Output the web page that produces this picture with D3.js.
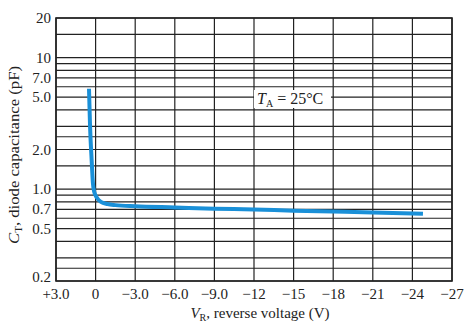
<!DOCTYPE html>
<head>
<meta charset="utf-8">
<script src="https://cdn.jsdelivr.net/npm/d3@7"></script>
<style>
  body { margin: 0; background: #fff; }
  text { font-family: "Liberation Serif", "Times New Roman", serif; fill: #222; }
</style>
</head>
<body>
<div id="container"></div>
<script>
// Données (tension inverse V, capacité pF)
const voltage = [0.5, 0.42, 0.3, 0.2, 0.1, -0.1, -0.4, -0.9, -1.5, -3, -6, -9, -12, -15, -18, -21, -24.8];
const capacitance = [5.8, 3.0, 1.67, 1.1, 0.95, 0.86, 0.8, 0.77, 0.755, 0.74, 0.725, 0.71, 0.70, 0.685, 0.675, 0.665, 0.65];

const xTicks = [3, 0, -3, -6, -9, -12, -15, -18, -21, -24, -27];
const xTickLabels = ["+3.0", "0", "\u22123.0", "\u22126.0", "\u22129.0", "\u221212", "\u221215", "\u221218", "\u221221", "\u221224", "\u221227"];
const yTicks = [20, 10, 7, 5, 2, 1, 0.7, 0.5, 0.2];
const yTickLabels = ["20", "10", "7.0", "5.0", "2.0", "1.0", "0.7", "0.5", "0.2"];
const yGrid = [20, 15, 10, 9, 8, 7, 6, 5, 4, 3, 2.5, 2, 1.5, 1, 0.9, 0.8, 0.7, 0.6, 0.5, 0.4, 0.3, 0.25, 0.2];

const W = 474, H = 334;
const mLeft = 56, mRight = 452, mTop = 18, mBottom = 281;

const svg = d3.select("#container").append("svg")
  .attr("width", W).attr("height", H);

// Échelles
const x = d3.scaleLinear().domain([3, -27]).range([mLeft, mRight]);
const y = d3.scaleLog().domain([0.2, 20]).range([mBottom, mTop]);

// Grille
svg.append("g").selectAll("line").data(yGrid).join("line")
  .attr("x1", mLeft).attr("x2", mRight)
  .attr("y1", d => y(d)).attr("y2", d => y(d))
  .attr("stroke", "#222").attr("stroke-width", 1.2);

svg.append("g").selectAll("line").data(xTicks).join("line")
  .attr("x1", d => x(d)).attr("x2", d => x(d))
  .attr("y1", mTop).attr("y2", mBottom)
  .attr("stroke", "#222").attr("stroke-width", 1.2);

// Cadre
svg.append("rect")
  .attr("x", mLeft).attr("y", mTop)
  .attr("width", mRight - mLeft).attr("height", mBottom - mTop)
  .attr("fill", "none").attr("stroke", "#222").attr("stroke-width", 1.6);

// Courbe
const pts = voltage.map((v, i) => ({ v, c: capacitance[i] }));
svg.append("path")
  .datum(pts)
  .attr("fill", "none")
  .attr("stroke", "#1a90d8")
  .attr("stroke-width", 4)
  .attr("d", d3.line().x(d => x(d.v)).y(d => y(d.c)).curve(d3.curveMonotoneX));

// Étiquette T_A
const ann = svg.append("g");
ann.append("rect")
  .attr("x", 254).attr("y", 90)
  .attr("width", 77).attr("height", 18)
  .attr("fill", "#fff");
const annText = ann.append("text")
  .attr("x", 257).attr("y", 103.5)
  .attr("font-size", 16);
annText.append("tspan").attr("font-style", "italic").text("T");
annText.append("tspan").attr("font-size", 10).attr("dy", 3).text("A");
annText.append("tspan").attr("dy", -3).text(" = 25\u00B0C");

// Labels des ticks
svg.append("g").selectAll("text").data(xTicks).join("text")
  .attr("x", d => x(d)).attr("y", 299)
  .attr("text-anchor", "middle")
  .attr("font-size", 15)
  .text((d, i) => xTickLabels[i]);

svg.append("g").selectAll("text").data(yTicks).join("text")
  .attr("x", 51).attr("y", d => d === 0.2 ? y(d) + 1 : y(d) + 5)
  .attr("text-anchor", "end")
  .attr("font-size", 15)
  .text((d, i) => yTickLabels[i]);

// Titre axe X
const xt = svg.append("text")
  .attr("x", 260).attr("y", 318)
  .attr("text-anchor", "middle")
  .attr("font-size", 15);
xt.append("tspan").attr("font-style", "italic").text("V");
xt.append("tspan").attr("font-size", 10).attr("dy", 3).text("R");
xt.append("tspan").attr("dy", -3).text(", reverse voltage (V)");

// Titre axe Y
const yt = svg.append("text")
  .attr("transform", "translate(19,155) rotate(-90)")
  .attr("text-anchor", "middle")
  .attr("font-size", 15)
  .attr("textLength", 178)
  .attr("lengthAdjust", "spacingAndGlyphs");
yt.append("tspan").attr("font-style", "italic").text("C");
yt.append("tspan").attr("font-size", 10).attr("dy", 3).text("T");
yt.append("tspan").attr("dy", -3).text(", diode capacitance (pF)");
</script>
</body>
